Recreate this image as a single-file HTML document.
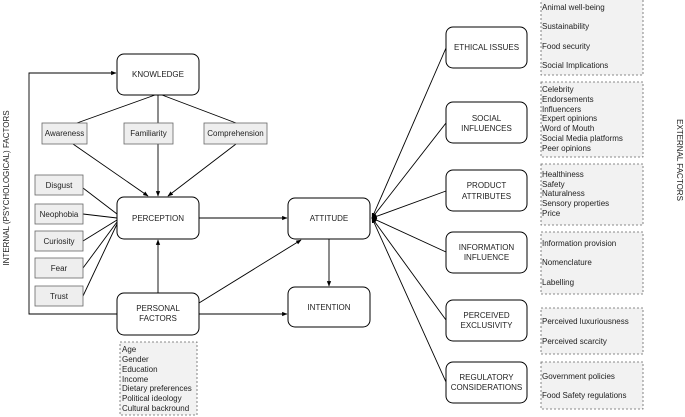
<!DOCTYPE html>
<html><head><meta charset="utf-8"><style>
html,body{margin:0;padding:0;background:#fff;}
svg{display:block;font-family:"Liberation Sans",Arial,sans-serif;}
.b{fill:#fff;stroke:#000;stroke-width:1;}
.g{fill:#eee;stroke:#666;stroke-width:0.8;}
.d{fill:#f2f2f2;stroke:#666;stroke-width:0.8;stroke-dasharray:2,2;}
.l{stroke:#000;stroke-width:0.9;fill:none;}
text{font-size:8px;fill:#222;}
.c{text-anchor:middle;}
</style></head><body>
<svg width="685" height="417" viewBox="0 0 685 417" xmlns="http://www.w3.org/2000/svg">
<defs><marker id="a" viewBox="0 0 10 10" refX="9" refY="5" markerWidth="6" markerHeight="6" orient="auto"><path d="M0,1 L10,5 L0,9 z" fill="#000"/></marker></defs>

<polyline class="l" points="117,314 29,314 29,73 116,73" marker-end="url(#a)"/>
<line class="l" x1="158" y1="95" x2="158" y2="123"/>
<line class="l" x1="155" y1="95" x2="77" y2="123"/>
<line class="l" x1="162" y1="95" x2="236" y2="123"/>
<line class="l" x1="73" y1="144" x2="148" y2="196" marker-end="url(#a)"/>
<line class="l" x1="158" y1="144" x2="158" y2="196" marker-end="url(#a)"/>
<line class="l" x1="236" y1="144" x2="168" y2="196" marker-end="url(#a)"/>
<line class="l" x1="83" y1="188" x2="117" y2="214"/>
<line class="l" x1="83" y1="214" x2="117" y2="218"/>
<line class="l" x1="83" y1="241" x2="117" y2="220"/>
<line class="l" x1="83" y1="268" x2="117" y2="222"/>
<line class="l" x1="83" y1="296" x2="117" y2="224"/>
<line class="l" x1="199" y1="218" x2="287" y2="218" marker-end="url(#a)"/>
<line class="l" x1="158" y1="293" x2="158" y2="240" marker-end="url(#a)"/>
<line class="l" x1="199" y1="303" x2="301" y2="240" marker-end="url(#a)"/>
<line class="l" x1="199" y1="314" x2="287" y2="314" marker-end="url(#a)"/>
<line class="l" x1="329" y1="239" x2="329" y2="286" marker-end="url(#a)"/>

<line class="l" x1="446" y1="48" x2="372" y2="218" marker-end="url(#a)"/>
<line class="l" x1="446" y1="123" x2="372" y2="218" marker-end="url(#a)"/>
<line class="l" x1="446" y1="191" x2="372" y2="218" marker-end="url(#a)"/>
<line class="l" x1="446" y1="252" x2="372" y2="218" marker-end="url(#a)"/>
<line class="l" x1="446" y1="320" x2="372" y2="218" marker-end="url(#a)"/>
<line class="l" x1="446" y1="382" x2="372" y2="218" marker-end="url(#a)"/>

<rect class="b" x="117" y="54" width="82" height="41" rx="7"/><text class="c" x="158" y="77">KNOWLEDGE</text>
<rect class="b" x="117" y="197" width="82" height="42" rx="7"/><text class="c" x="158" y="221">PERCEPTION</text>
<rect class="b" x="117" y="293" width="82" height="42" rx="7"/><text class="c" x="158" y="311">PERSONAL</text><text class="c" x="158" y="321">FACTORS</text>
<rect class="b" x="288" y="198" width="82" height="41" rx="7"/><text class="c" x="329" y="221">ATTITUDE</text>
<rect class="b" x="288" y="287" width="82" height="40" rx="7"/><text class="c" x="329" y="310">INTENTION</text>

<rect class="g" x="42" y="123" width="45" height="21"/><text class="c" x="64.5" y="136">Awareness</text>
<rect class="g" x="124" y="123" width="49" height="21"/><text class="c" x="148.5" y="136">Familiarity</text>
<rect class="g" x="204" y="123" width="63" height="21"/><text class="c" x="235.5" y="136">Comprehension</text>
<rect class="g" x="35" y="175" width="48" height="20"/><text class="c" x="59" y="188">Disgust</text>
<rect class="g" x="35" y="204" width="48" height="20"/><text class="c" x="59" y="217">Neophobia</text>
<rect class="g" x="35" y="231" width="48" height="20"/><text class="c" x="59" y="244">Curiosity</text>
<rect class="g" x="35" y="258" width="48" height="20"/><text class="c" x="59" y="271">Fear</text>
<rect class="g" x="35" y="286" width="48" height="20"/><text class="c" x="59" y="299">Trust</text>

<rect class="d" x="120" y="342" width="77" height="73"/>
<text x="122" y="352">Age</text><text x="122" y="362">Gender</text><text x="122" y="372">Education</text><text x="122" y="382">Income</text><text x="122" y="391">Dietary preferences</text><text x="122" y="401">Political ideology</text><text x="122" y="411">Cultural backround</text>

<rect class="b" x="446" y="27" width="81" height="41" rx="7"/><text class="c" x="486.5" y="50">ETHICAL ISSUES</text>
<rect class="b" x="446" y="102" width="81" height="41" rx="7"/><text class="c" x="486.5" y="121">SOCIAL</text><text class="c" x="486.5" y="131">INFLUENCES</text>
<rect class="b" x="446" y="170" width="81" height="41" rx="7"/><text class="c" x="486.5" y="188">PRODUCT</text><text class="c" x="486.5" y="199">ATTRIBUTES</text>
<rect class="b" x="446" y="232" width="81" height="41" rx="7"/><text class="c" x="486.5" y="250">INFORMATION</text><text class="c" x="486.5" y="260">INFLUENCE</text>
<rect class="b" x="446" y="300" width="81" height="41" rx="7"/><text class="c" x="486.5" y="318">PERCEIVED</text><text class="c" x="486.5" y="328">EXCLUSIVITY</text>
<rect class="b" x="446" y="362" width="81" height="41" rx="7"/><text class="c" x="486.5" y="380">REGULATORY</text><text class="c" x="486.5" y="390">CONSIDERATIONS</text>

<rect class="d" x="541" y="-2" width="102" height="77"/>
<text x="542" y="10">Animal well-being</text><text x="542" y="29">Sustainability</text><text x="542" y="49">Food security</text><text x="542" y="68">Social Implications</text>
<rect class="d" x="541" y="82" width="102" height="75"/>
<text x="542" y="92">Celebrity</text><text x="542" y="102">Endorsements</text><text x="542" y="112">Influencers</text><text x="542" y="121">Expert opinions</text><text x="542" y="131">Word of Mouth</text><text x="542" y="141">Social Media platforms</text><text x="542" y="151">Peer opinions</text>
<rect class="d" x="541" y="164" width="102" height="61"/>
<text x="542" y="177">Healthiness</text><text x="542" y="187">Safety</text><text x="542" y="196">Naturalness</text><text x="542" y="206">Sensory properties</text><text x="542" y="216">Price</text>
<rect class="d" x="541" y="232" width="102" height="62"/>
<text x="542" y="246">Information provision</text><text x="542" y="265">Nomenclature</text><text x="542" y="285">Labelling</text>
<rect class="d" x="541" y="308" width="102" height="46"/>
<text x="542" y="324">Perceived luxuriousness</text><text x="542" y="344">Perceived scarcity</text>
<rect class="d" x="541" y="362" width="102" height="47"/>
<text x="542" y="379">Government policies</text><text x="542" y="398">Food Safety regulations</text>

<text class="c" transform="translate(9,188) rotate(-90)">INTERNAL (PSYCHOLOGICAL) FACTORS</text>
<text class="c" transform="translate(677,160) rotate(90)">EXTERNAL FACTORS</text>
</svg>
</body></html>
